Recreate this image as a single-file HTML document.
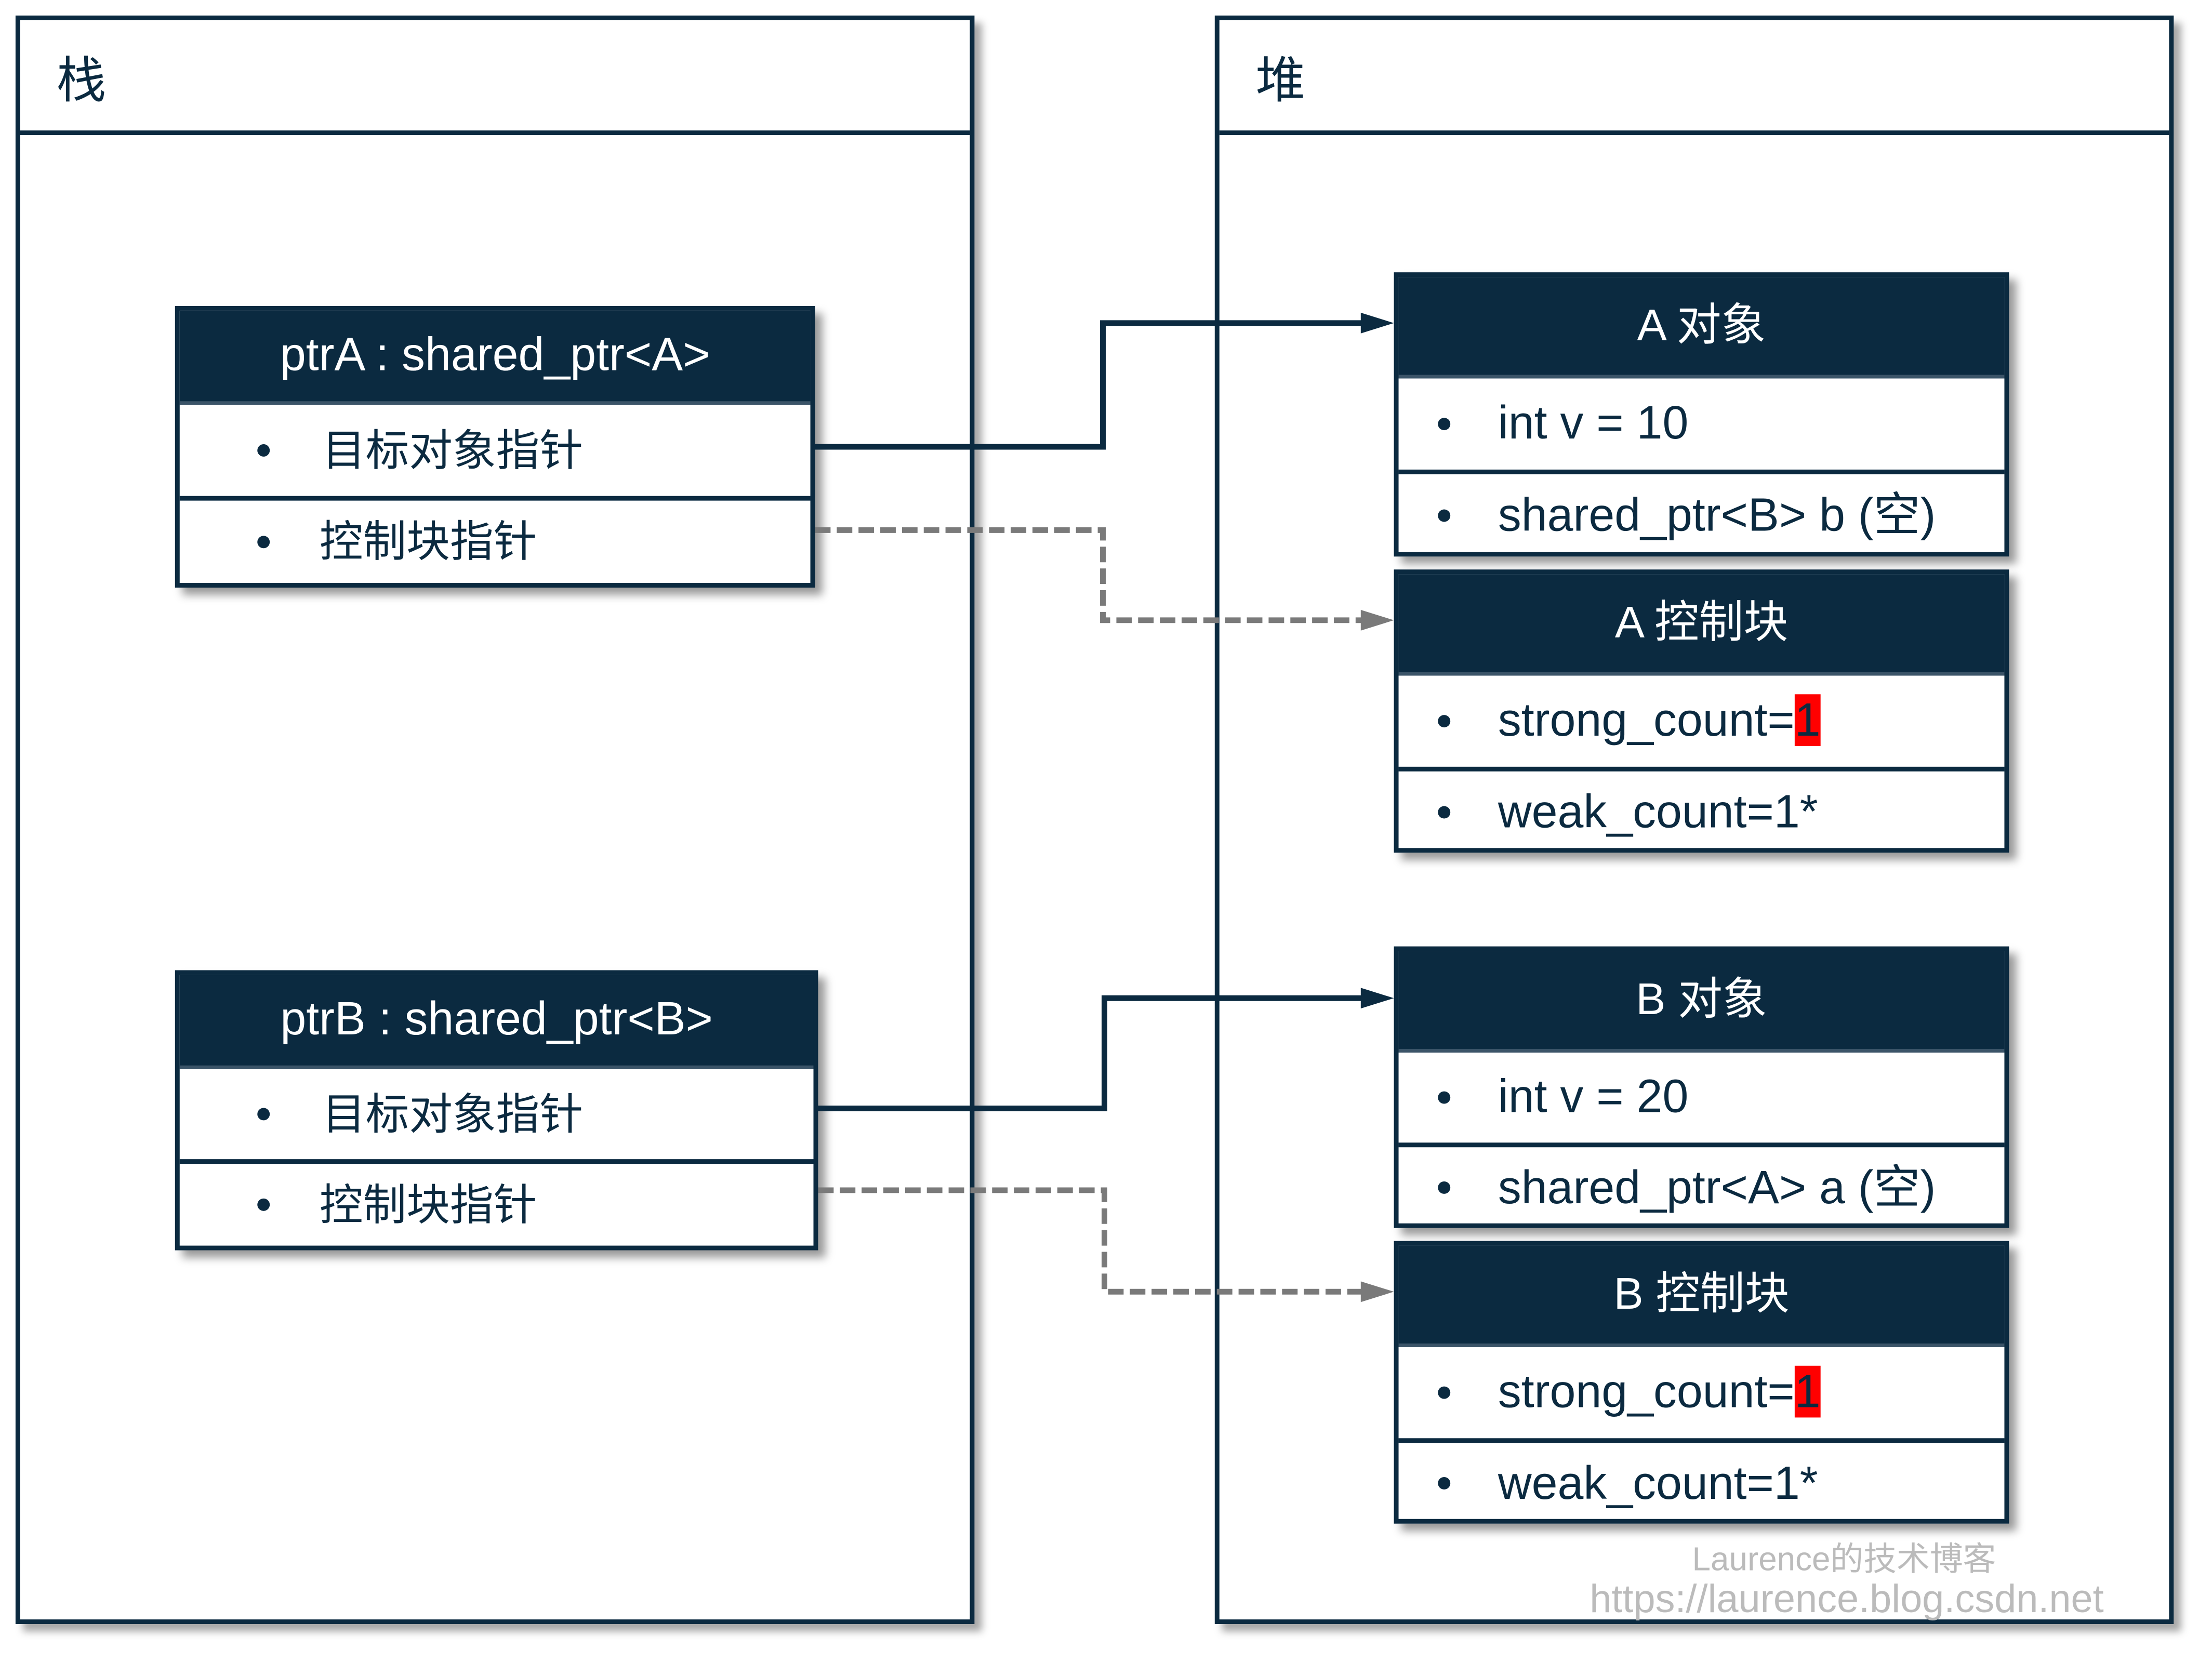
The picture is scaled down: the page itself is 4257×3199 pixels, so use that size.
<!DOCTYPE html>
<html><head><meta charset="utf-8"><style>
html,body{margin:0;padding:0;background:#fff;}
body{width:4257px;height:3199px;position:relative;overflow:hidden;font-family:"Liberation Sans","Noto Sans CJK SC",sans-serif;}
#w{position:absolute;left:0;top:0;width:4257px;height:3199px;transform:scale(0.9965);transform-origin:0 0;}
.panel{position:absolute;border:9px solid #0b2a40;box-sizing:border-box;box-shadow:14px 14px 14px rgba(0,0,0,0.35);background:#fff;}
.panel .hd{position:absolute;left:0;right:0;top:0;height:222px;border-bottom:9px solid #0b2a40;box-sizing:border-box;}
.panel .hd span{position:absolute;left:70px;top:38px;font-size:96px;color:#0b2a40;}
.box{position:absolute;border:9px solid #0b2a40;box-sizing:border-box;background:#fff;box-shadow:14px 14px 16px rgba(0,0,0,0.4);}
.box .h{position:absolute;left:0;right:0;top:0;background:#0b2a40;color:#fff;font-size:86px;text-align:center;box-sizing:border-box;border-bottom:7px solid #3b5468;}
.box .r{position:absolute;left:0;right:0;box-sizing:border-box;font-size:90px;color:#0b2a40;}
.box .r.cn{font-size:84px;}
.box .r.b{border-top:9px solid #0b2a40;}
.dot{position:absolute;width:24px;height:24px;border-radius:50%;background:#0b2a40;margin-top:-12px;top:50%;}
.t{position:absolute;white-space:nowrap;top:0;}
.red{background:#f00;}
</style></head><body><div id="w">

<div class="panel" style="left:30px;top:30px;width:1852px;height:3107px;"><div class="hd"><span>栈</span></div></div>
<div class="panel" style="left:2346px;top:30px;width:1852px;height:3107px;"><div class="hd"><span>堆</span></div></div>

<!-- ptrA -->
<div class="box" style="left:338px;top:591px;width:1236px;height:544px;">
 <div class="h" style="height:182px;line-height:170px;font-size:90px;">ptrA : shared_ptr&lt;A&gt;</div>
 <div class="r cn" style="top:182px;height:176px;line-height:176px;"><div class="dot" style="left:150px"></div><div class="t" style="left:275px">目标对象指针</div></div>
 <div class="r b cn" style="top:358px;height:168px;line-height:159px;"><div class="dot" style="left:150px"></div><div class="t" style="left:270px">控制块指针</div></div>
</div>
<!-- ptrB -->
<div class="box" style="left:338px;top:1874px;width:1242px;height:541px;">
 <div class="h" style="height:182px;line-height:170px;font-size:90px;">ptrB : shared_ptr&lt;B&gt;</div>
 <div class="r cn" style="top:182px;height:174px;line-height:174px;"><div class="dot" style="left:150px"></div><div class="t" style="left:275px">目标对象指针</div></div>
 <div class="r b cn" style="top:356px;height:167px;line-height:158px;"><div class="dot" style="left:150px"></div><div class="t" style="left:270px">控制块指针</div></div>
</div>

<!-- A obj -->
<div class="box" style="left:2692px;top:526px;width:1188px;height:549px;">
 <div class="h" style="height:196px;line-height:186px;">A 对象</div>
 <div class="r" style="top:196px;height:176px;line-height:172px;"><div class="dot" style="left:76px"></div><div class="t" style="left:192px">int v = 10</div></div>
 <div class="r b" style="top:372px;height:168px;line-height:159px;"><div class="dot" style="left:76px"></div><div class="t" style="left:192px">shared_ptr&lt;B&gt; b (空)</div></div>
</div>
<!-- A ctrl -->
<div class="box" style="left:2692px;top:1100px;width:1188px;height:547px;">
 <div class="h" style="height:196px;line-height:186px;">A 控制块</div>
 <div class="r" style="top:196px;height:176px;line-height:172px;"><div class="dot" style="left:76px"></div><div class="t" style="left:192px">strong_count=<span class="red">1</span></div></div>
 <div class="r b" style="top:372px;height:166px;line-height:157px;"><div class="dot" style="left:76px"></div><div class="t" style="left:192px">weak_count=1*</div></div>
</div>
<!-- B obj -->
<div class="box" style="left:2692px;top:1828px;width:1188px;height:544px;">
 <div class="h" style="height:196px;line-height:186px;">B 对象</div>
 <div class="r" style="top:196px;height:174px;line-height:170px;"><div class="dot" style="left:76px"></div><div class="t" style="left:192px">int v = 20</div></div>
 <div class="r b" style="top:370px;height:165px;line-height:156px;"><div class="dot" style="left:76px"></div><div class="t" style="left:192px">shared_ptr&lt;A&gt; a (空)</div></div>
</div>
<!-- B ctrl -->
<div class="box" style="left:2692px;top:2397px;width:1188px;height:546px;">
 <div class="h" style="height:196px;line-height:186px;">B 控制块</div>
 <div class="r" style="top:196px;height:176px;line-height:172px;"><div class="dot" style="left:76px"></div><div class="t" style="left:192px">strong_count=<span class="red">1</span></div></div>
 <div class="r b" style="top:372px;height:165px;line-height:156px;"><div class="dot" style="left:76px"></div><div class="t" style="left:192px">weak_count=1*</div></div>
</div>

<svg style="position:absolute;left:0;top:0" width="4257" height="3199">
 <g fill="none" stroke-width="11">
  <polyline points="1574,863 2130,863 2130,624 2650,624" stroke="#0b2a40"/>
  <polyline points="1580,2141 2133,2141 2133,1928 2650,1928" stroke="#0b2a40"/>
  <polyline points="1574,1024 2130,1024 2130,1198 2650,1198" stroke="#7a7a7a" stroke-dasharray="30,12"/>
  <polyline points="1580,2299 2133,2299 2133,2495 2650,2495" stroke="#7a7a7a" stroke-dasharray="30,12"/>
 </g>
 <polygon points="2692,624 2628,604 2628,644" fill="#0b2a40"/>
 <polygon points="2692,1928 2628,1908 2628,1948" fill="#0b2a40"/>
 <polygon points="2692,1198 2628,1178 2628,1218" fill="#7a7a7a"/>
 <polygon points="2692,2495 2628,2475 2628,2515" fill="#7a7a7a"/>
</svg>

<div class="t" style="left:3268px;top:2960px;font-size:64px;color:#bbb;">Laurence的技术博客</div>
<div class="t" style="left:3070px;top:3045px;font-size:76px;color:#bbb;">https://laurence.blog.csdn.net</div>
</div></body></html>
